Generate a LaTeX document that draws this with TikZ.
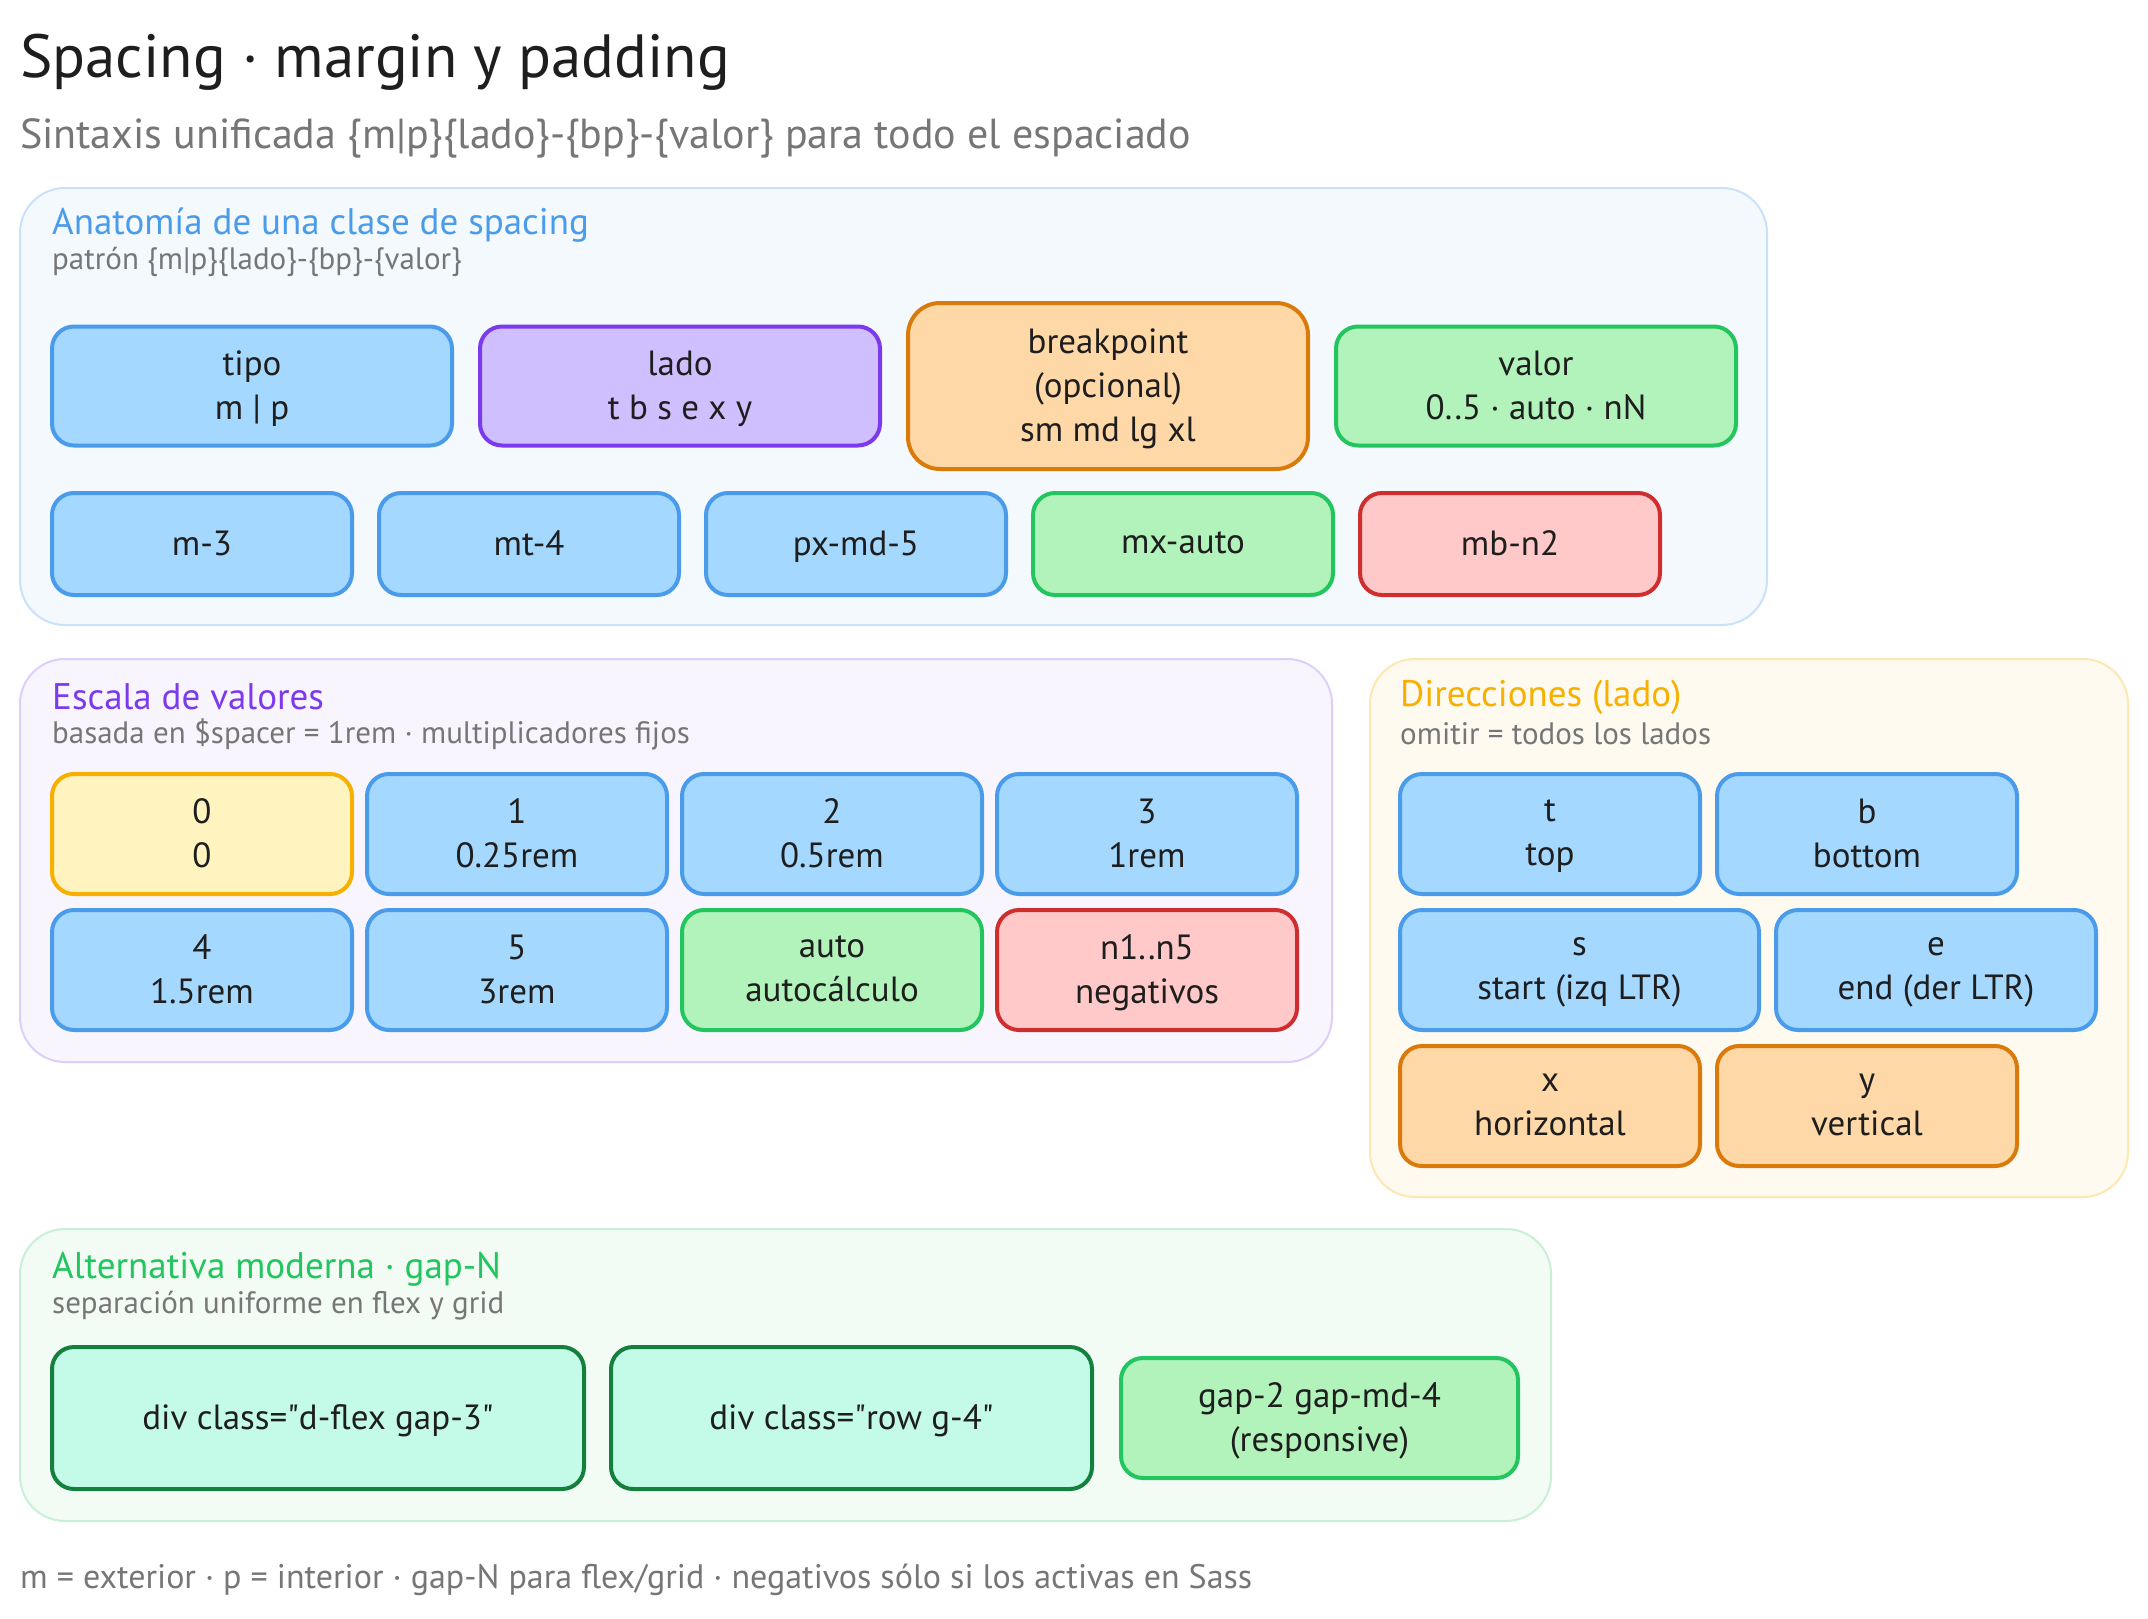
\documentclass[tikz,border=0pt]{standalone}
\usepackage{fontspec}
\setmainfont{PT Sans}
\usepackage{tikz}
\usetikzlibrary{positioning}

\definecolor{bluefill}{HTML}{A5D8FF}  \definecolor{bluedraw}{HTML}{4A9BEA}
\definecolor{purpfill}{HTML}{D0BFFF}  \definecolor{purpdraw}{HTML}{7C3AED}
\definecolor{orngfill}{HTML}{FFD8A8}  \definecolor{orngdraw}{HTML}{DA7A0A}
\definecolor{grnfill}{HTML}{B2F2BB}   \definecolor{grndraw}{HTML}{22C55E}
\definecolor{redfill}{HTML}{FFC9C9}   \definecolor{reddraw}{HTML}{CF2E2E}
\definecolor{ylwfill}{HTML}{FFF3BF}   \definecolor{ylwdraw}{HTML}{F7B000}
\definecolor{mintfill}{HTML}{C3FAE8}  \definecolor{mintdraw}{HTML}{15803D}
\definecolor{inktext}{HTML}{1E1E1E}   \definecolor{graytext}{HTML}{767676}

\begin{document}
\begin{tikzpicture}[
  x=1pt, y=-1pt,
  font=\fontsize{35}{44}\selectfont, text=inktext,
  box/.style={draw, line width=4pt, rounded corners=22pt, outer sep=0pt, text depth=2pt,
              minimum width=300pt, minimum height=120pt, align=center, inner sep=4pt},
  bluebox/.style={box, draw=bluedraw, fill=bluefill},
  purpbox/.style={box, draw=purpdraw, fill=purpfill},
  orngbox/.style={box, draw=orngdraw, fill=orngfill},
  grnbox/.style={box, draw=grndraw, fill=grnfill},
  redbox/.style={box, draw=reddraw, fill=redfill},
  ylwbox/.style={box, draw=ylwdraw, fill=ylwfill},
  mintbox/.style={box, draw=mintdraw, fill=mintfill},
  panel/.style={line width=2pt, rounded corners=45pt},
  ptitle/.style={anchor=west, inner sep=0pt, font=\fontsize{37}{40}\selectfont},
  psub/.style={anchor=west, inner sep=0pt, text=graytext, font=\fontsize{31}{34}\selectfont}
]
\path[fill=white, use as bounding box] (0,0) rectangle (2148,1619);

% ---------- Cabecera ----------
\node[anchor=west, inner sep=0pt, font=\fontsize{61}{66}\selectfont] (titulo) at (20,62)
  {Spacing · margin y padding};
\node[anchor=west, inner sep=0pt, text=graytext, font=\fontsize{42}{46}\selectfont] (sintaxis) at (20,138)
  {Sintaxis unificada \{m|p\}\{lado\}-\{bp\}-\{valor\} para todo el espaciado};

% ---------- Panel 1: anatomia ----------
\draw[panel, draw=bluedraw!30, fill=bluedraw!6] (20,188) rectangle (1767,625);
\node[ptitle, text=bluedraw] (t1) at (52,225) {Anatomía de una clase de spacing};
\node[psub] (s1) at (52,262) {patrón \{m|p\}\{lado\}-\{bp\}-\{valor\}};
\node[bluebox, minimum width=400pt, minimum height=119pt] (tipo) at (252,386) {tipo\\m | p};
\node[purpbox, minimum width=400pt, minimum height=119pt, right=28pt of tipo] (lado) {lado\\t b s e x y};
\node[orngbox, minimum width=400pt, minimum height=166pt, rounded corners=32pt, right=28pt of lado] (bp)
  {breakpoint\\(opcional)\\sm md lg xl};
\node[grnbox, minimum width=400pt, minimum height=119pt, right=28pt of bp] (valor) {valor\\0..5 · auto · nN};
\node[bluebox, minimum height=102pt] (ej1) at (202,544) {m-3};
\node[bluebox, minimum height=102pt, right=27pt of ej1] (ej2) {mt-4};
\node[bluebox, minimum height=102pt, right=27pt of ej2] (ej3) {px-md-5};
\node[grnbox, minimum height=102pt, right=27pt of ej3] (ej4) {mx-auto};
\node[redbox, minimum height=102pt, right=27pt of ej4] (ej5) {mb-n2};

% ---------- Panel 2: escala ----------
\draw[panel, draw=purpdraw!25, fill=purpdraw!5] (20,659) rectangle (1332,1062);
\node[ptitle, text=purpdraw] (t2) at (52,697) {Escala de valores};
\node[psub] (s2) at (52,734) {basada en \$spacer = 1rem · multiplicadores fijos};
\node[ylwbox] (v0) at (202,834) {0\\0};
\node[bluebox, right=15pt of v0] (v1) {1\\0.25rem};
\node[bluebox, right=15pt of v1] (v2) {2\\0.5rem};
\node[bluebox, right=15pt of v2] (v3) {3\\1rem};
\node[bluebox, below=16pt of v0] (v4) {4\\1.5rem};
\node[bluebox, right=15pt of v4] (v5) {5\\3rem};
\node[grnbox, right=15pt of v5] (vauto) {auto\\autocálculo};
\node[redbox, right=15pt of vauto] (vneg) {n1..n5\\negativos};

% ---------- Panel 3: direcciones ----------
\draw[panel, draw=ylwdraw!30, fill=ylwdraw!6] (1370,659) rectangle (2128,1197);
\node[ptitle, text=ylwdraw] (t3) at (1400,697) {Direcciones (lado)};
\node[psub] (s3) at (1400,734) {omitir = todos los lados};
\node[bluebox] (dt) at (1550,834) {t\\top};
\node[bluebox, right=17pt of dt] (db) {b\\bottom};
\node[bluebox, minimum width=359pt, below=16pt of dt.south west, anchor=north west] (ds) {s\\start (izq LTR)};
\node[bluebox, minimum width=320pt, right=17pt of ds] (de) {e\\end (der LTR)};
\node[orngbox, below=16pt of ds.south west, anchor=north west] (dx) {x\\horizontal};
\node[orngbox, right=17pt of dx] (dy) {y\\vertical};

% ---------- Panel 4: gap ----------
\draw[panel, draw=grndraw!25, fill=grndraw!6] (20,1229) rectangle (1551,1521);
\node[ptitle, text=grndraw] (t4) at (52,1269) {Alternativa moderna · gap-N};
\node[psub] (s4) at (52,1306) {separación uniforme en flex y grid};
\node[mintbox, minimum width=532pt, minimum height=142pt] (flex) at (318,1418)
  {div class=\textquotedbl d-flex gap-3\textquotedbl};
\node[mintbox, minimum width=481pt, minimum height=142pt, right=27pt of flex] (fila)
  {div class=\textquotedbl row g-4\textquotedbl};
\node[grnbox, minimum width=397pt, right=29pt of fila] (resp) {gap-2 gap-md-4\\(responsive)};

% ---------- Pie ----------
\node[psub, font=\fontsize{34}{38}\selectfont] (pie) at (20,1580)
  {m = exterior · p = interior · gap-N para flex/grid · negativos sólo si los activas en Sass};

\end{tikzpicture}
\end{document}
